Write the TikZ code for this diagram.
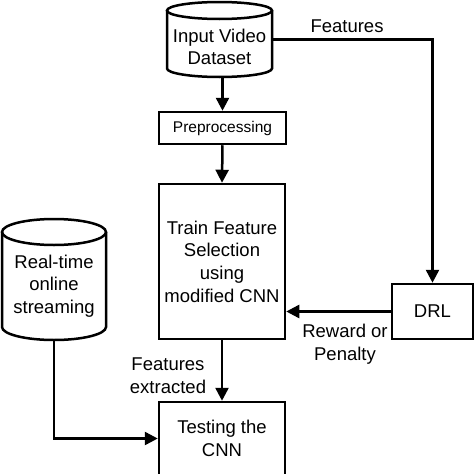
\documentclass[tikz,border=0pt]{standalone}
\usepackage{fontspec}
\setmainfont{Liberation Sans}
\usetikzlibrary{arrows.meta}
\begin{document}
\begin{tikzpicture}[x=1pt,y=-1pt,line width=2.5pt,
  >={Triangle[length=13pt,width=13pt]},
  txt/.style={inner sep=0pt,align=center,font=\fontsize{18.5}{22.7}\selectfont},
  box/.style={draw,rectangle,inner sep=0pt,align=center,font=\fontsize{18.5}{22.7}\selectfont},
  ghost/.style={rectangle,inner sep=0pt,draw=none}]
\useasboundingbox (0,0) rectangle (474,474);
% top cylinder
\node[ghost,minimum width=105pt,minimum height=75pt] (in) at (219.5,39.5) {};
\draw (167,10.5) -- (167,68.5) arc[start angle=180,end angle=360,x radius=52.5pt,y radius=8.5pt] -- (272,10.5);
\draw (219.5,10.5) ellipse[x radius=52.5pt,y radius=8.5pt];
\node[txt] (intxt) at (219.5,47) {Input Video\\Dataset};
% real-time cylinder
\node[ghost,minimum width=104pt,minimum height=121pt] (rt) at (54,279.5) {};
\draw (2,232) -- (2,327) arc[start angle=180,end angle=360,x radius=52pt,y radius=13pt] -- (106,232);
\draw (54,232) ellipse[x radius=52pt,y radius=13pt];
\node[txt] (rttxt) at (54,286) {Real-time\\online\\streaming};
% boxes
\node[box,minimum width=127pt,minimum height=32pt,font=\fontsize{15.5}{19}\selectfont] (pre) at (222.5,128) {Preprocessing};
\node[box,minimum width=126pt,minimum height=155pt] (train) at (222,261.5) {Train Feature\\Selection\\using\\modified CNN};
\node[box,minimum width=81pt,minimum height=55pt] (drl) at (432.5,311.5) {DRL};
\node[box,minimum width=126pt,minimum height=73pt] (test) at (222,438.5) {Testing the\\CNN};
% connectors
\draw[->] (pre.north |- in.south) -- (pre.north);
\draw[->] (pre.south) -- (train.north);
\draw[->] (in.east) -| (drl.north);
\draw[->] (drl.west) -- (drl.west -| train.east);
\draw[->] (train.south) -- (test.north);
\draw[->] (rt.south) |- (test.west);
% labels
\node[txt] (lf) at (347,26) {Features};
\node[txt] (lr) at (345,344) {Reward or\\Penalty};
\node[txt] (le) at (168,376) {Features\\extracted};
\end{tikzpicture}
\end{document}
